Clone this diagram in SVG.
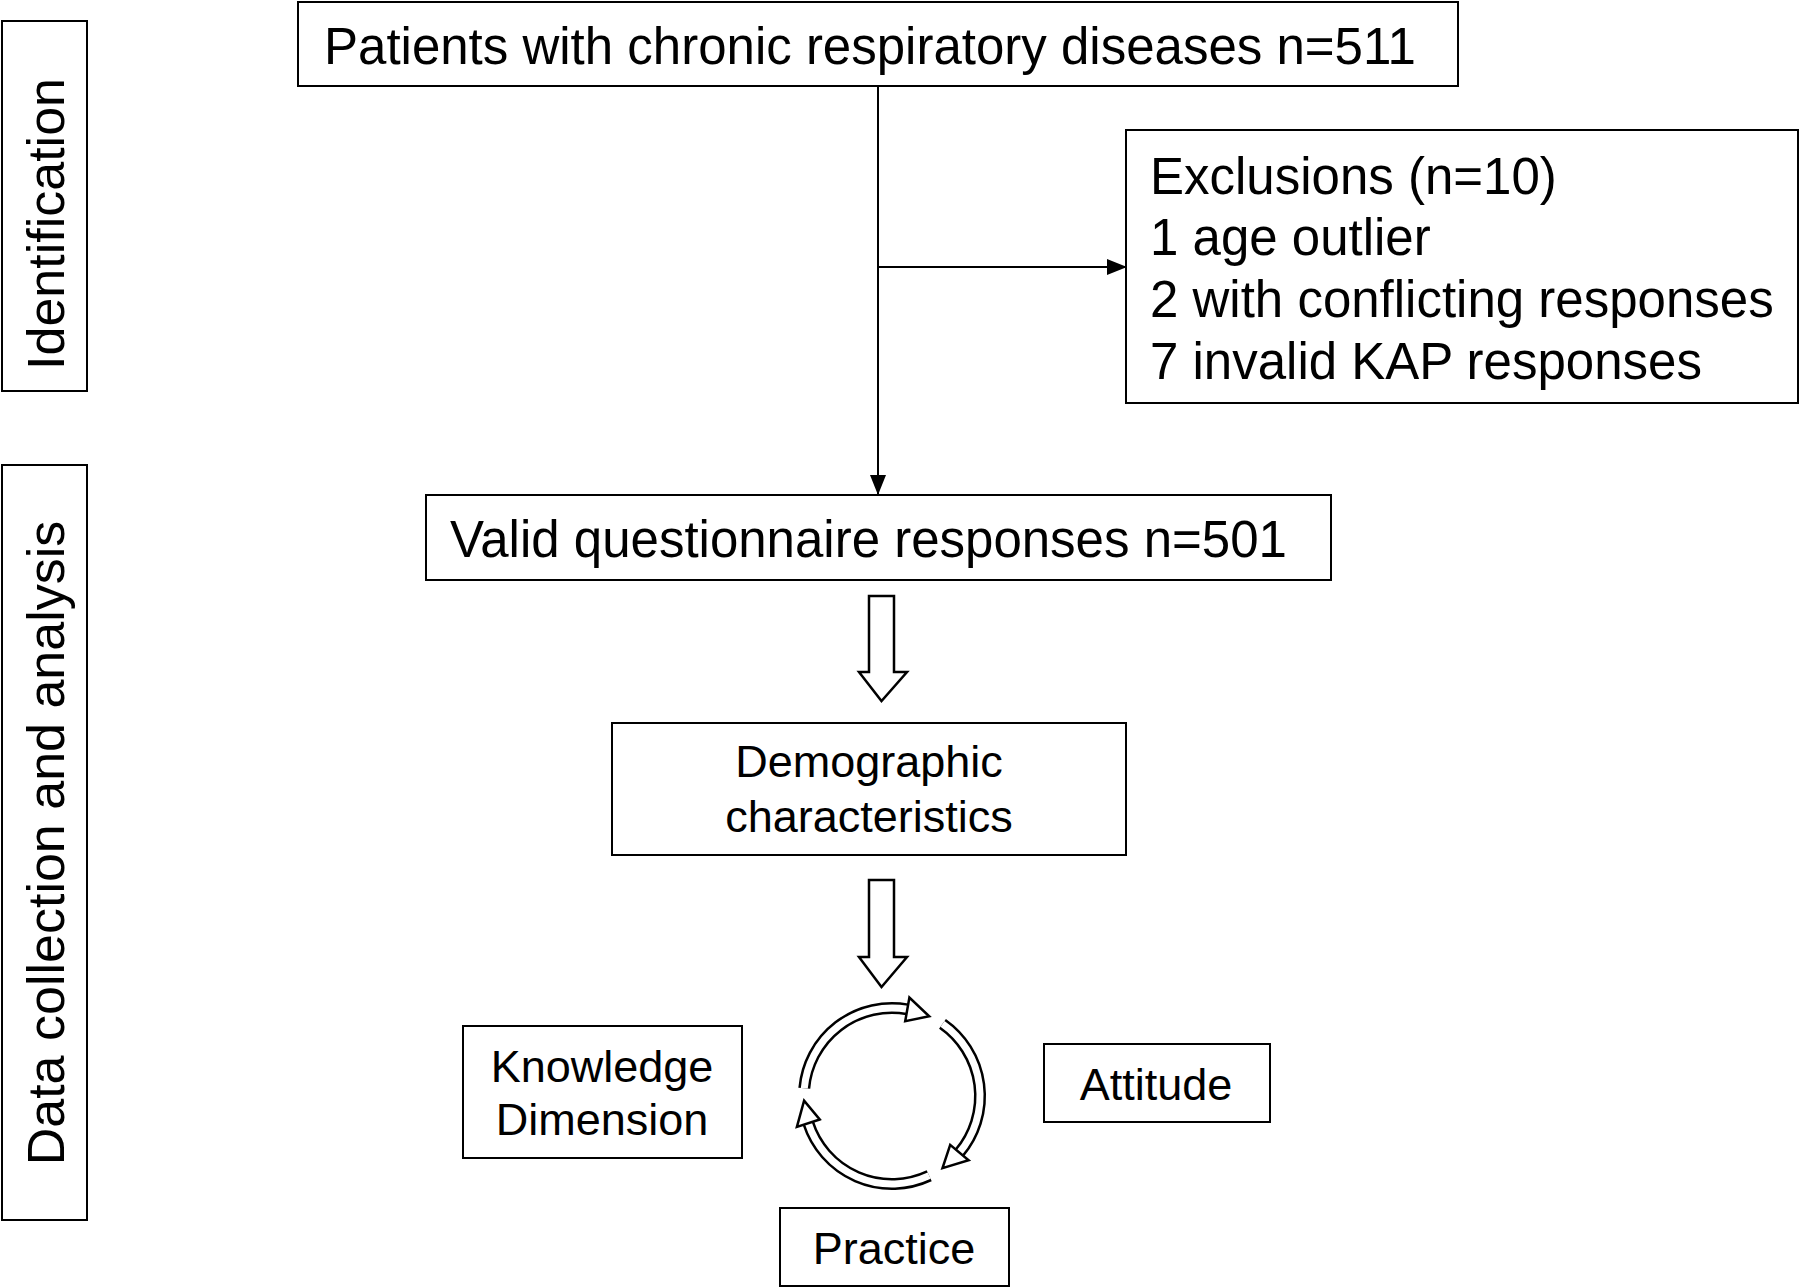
<svg xmlns="http://www.w3.org/2000/svg" width="1800" height="1288" viewBox="0 0 1800 1288">
<style>
rect{fill:#fff;stroke:#000;stroke-width:2}
text{font-family:"Liberation Sans",Arial,sans-serif;fill:#000}
.b{font-size:51px}
.v{font-size:52px}
.m{font-size:45px;text-anchor:middle}
.c{stroke:#000;stroke-width:2;fill:none}
.ao{fill:none;stroke:#000;stroke-width:12}
.ai{fill:none;stroke:#fff;stroke-width:7}
.ah{fill:#fff;stroke:#000;stroke-width:2.5;stroke-linejoin:miter}
</style>
<defs>
<marker id="ar2" markerWidth="20" markerHeight="16" refX="19" refY="8" orient="auto" markerUnits="userSpaceOnUse"><path d="M0,0 L20,8 L0,16 Z" fill="#000"/></marker></defs>
<rect width="1800" height="1288" style="stroke:none"/>
<g id="id-label"><rect x="2" y="21" width="85" height="370"/><text class="v" transform="translate(64,224) rotate(-90)" text-anchor="middle">Identification</text></g>
<g id="data-label"><rect x="2" y="465" width="85" height="755"/><text class="v" transform="translate(64,843) rotate(-90)" text-anchor="middle">Data collection and analysis</text></g>
<g id="patients"><rect x="298" y="2" width="1160" height="84"/><text class="b" x="324" y="64">Patients with chronic respiratory diseases n=511</text></g>
<g id="exclusions"><rect x="1126" y="130" width="672" height="273"/><text class="b" x="1150" y="194">Exclusions (n=10)</text><text class="b" x="1150" y="255">1 age outlier</text><text class="b" x="1150" y="317">2 with conflicting responses</text><text class="b" x="1150" y="379">7 invalid KAP responses</text></g>
<g id="valid"><rect x="426" y="495" width="905" height="85"/><text class="b" x="450" y="557">Valid questionnaire responses n=501</text></g>
<g id="demographic"><rect x="612" y="723" width="514" height="132"/><text class="m" x="869" y="777">Demographic</text><text class="m" x="869" y="832">characteristics</text></g>
<g id="knowledge"><rect x="463" y="1026" width="279" height="132"/><text class="m" x="602" y="1082">Knowledge</text><text class="m" x="602" y="1135">Dimension</text></g>
<g id="attitude"><rect x="1044" y="1044" width="226" height="78"/><text class="m" x="1156" y="1100">Attitude</text></g>
<g id="practice"><rect x="780" y="1208" width="229" height="78"/><text class="m" x="894" y="1264">Practice</text></g>
<g id="connectors">
<line class="c" x1="878" y1="86" x2="878" y2="494" marker-end="url(#ar2)"/>
<line class="c" x1="878" y1="267" x2="1126" y2="267" marker-end="url(#ar2)"/>
<path class="ah" d="M869,596 H894 V672 H907 L881.5,701 L859,672 H869 Z"/>
<path class="ah" d="M869,880 H894 V957 H907 L881.5,987 L859,957 H869 Z"/>
<path class="ao" d="M804.3,1088.3 A88,88 0 0 1 907.3,1009.3"/><path class="ai" d="M804.3,1088.3 A88,88 0 0 1 907.3,1009.3"/>
<path class="ah" d="M905.2,1021.2 L909.4,997.5 L929.2,1016.3 Z"/>
<path class="ao" d="M942.5,1023.9 A88,88 0 0 1 959.4,1152.6"/><path class="ai" d="M942.5,1023.9 A88,88 0 0 1 959.4,1152.6"/>
<path class="ah" d="M950.2,1144.9 L968.6,1160.3 L942.5,1168.1 Z"/>
<path class="ao" d="M929.2,1175.7 A88,88 0 0 1 808.3,1123.2"/><path class="ai" d="M929.2,1175.7 A88,88 0 0 1 808.3,1123.2"/>
<path class="ah" d="M819.7,1119.5 L796.9,1126.9 L804.1,1100.6 Z"/>
</g>
</svg>
